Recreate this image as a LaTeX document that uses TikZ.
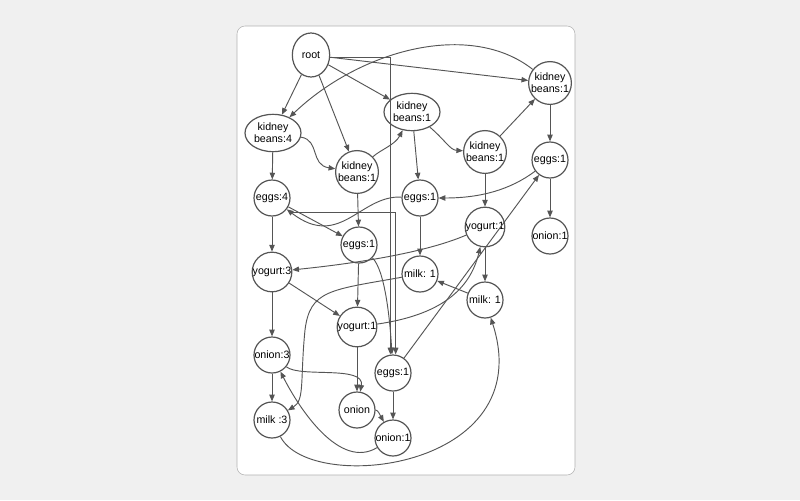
\documentclass[tikz,border=0pt]{standalone}
\usepackage{fontspec}
\setmainfont{Liberation Sans}
\usetikzlibrary{arrows.meta}
\definecolor{edgecolor}{RGB}{85,85,85}
\definecolor{pagecolor}{RGB}{240,240,240}

\tikzset{
  item/.style={draw=edgecolor, line width=0.9pt, circle, minimum size=27pt, inner sep=0pt, font=\fontsize{8}{9}\selectfont, align=center},
  wide/.style={item, ellipse, minimum width=42pt, minimum height=28pt},
  link/.style={draw=edgecolor, line width=0.7pt, -{Triangle[length=5pt,width=4pt]}},
}
\usetikzlibrary{shapes.geometric}

\begin{document}
\begin{tikzpicture}[x=0.75pt, y=-0.75pt]
        \useasboundingbox (0,0) rectangle (800,500);
        \fill[pagecolor] (0,0) rectangle (800,500);
        \filldraw[fill=white, draw=gray!60, rounded corners=6pt] (237,26) rectangle (575,475);

        % nodes, top to bottom
        \node[wide, minimum width=28pt, minimum height=33pt] (root) at (311,55) {root};
        \node[wide] (kbfour) at (273,133) {kidney\\beans:4};
        \node[item] (kbone) at (357,172) {kidney\\beans:1};
        \node[wide] (kbtwo) at (412,112) {kidney\\beans:1};
        \node[item] (kbthree) at (485,152) {kidney\\beans:1};
        \node[item] (kbfive) at (550,83) {kidney\\beans:1};
        \node[item] (eggsfour) at (272,198) {eggs:4};
        \node[item] (eggsone) at (359,245) {eggs:1};
        \node[item] (eggstwo) at (420,198) {eggs:1};
        \node[item] (eggsthree) at (550,160) {eggs:1};
        \node[item] (yogurtone) at (485,227) {yogurt:1};
        \node[item] (oniontop) at (550,236) {onion:1};
        \node[item] (yogurtthree) at (272,272) {yogurt:3};
        \node[item] (milkone) at (420,274) {milk: 1};
        \node[item] (milktwo) at (485,300) {milk: 1};
        \node[item] (yogurttwo) at (357,327) {yogurt:1};
        \node[item] (onionthree) at (272,355) {onion:3};
        \node[item] (eggsfive) at (393,373) {eggs:1};
        \node[item] (onion) at (357,410) {onion};
        \node[item] (milkthree) at (272,420) {milk :3};
        \node[item] (onionone) at (393,438) {onion:1};

        % connectors
        \draw[link] (root) -- (kbfour);
        \draw[link] (root) -- (kbone);
        \draw[link] (root) -- (kbtwo);
        \draw[link] (root) -- (kbfive);
        \draw[link] (root.east |- 0,57) -| ([xshift=-2pt]eggsfive.north);
        \draw[link] (eggsfour.east |- 0,212) -| ([xshift=2pt]eggsfive.north);
        \draw[link] (kbfive) .. controls (470,20) and (360,50) .. (kbfour);
        \draw[link] (kbfour) .. controls (320,140) and (310,165) .. (kbone);
        \draw[link] (kbone) .. controls (380,150) and (395,145) .. (kbtwo);
        \draw[link] (kbtwo) .. controls (445,140) and (450,150) .. (kbthree);
        \draw[link] (kbthree) -- (kbfive);
        \draw[link] (kbtwo) -- (eggstwo);
        \draw[link] (kbfive) -- (eggsthree);
        \draw[link] (eggsthree) -- (oniontop);
        \draw[link] (kbthree) -- (yogurtone);
        \draw[link] (kbfour) -- (eggsfour);
        \draw[link] (kbone) -- (eggsone);
        \draw[link] (eggsthree) .. controls (510,190) and (480,198) .. (eggstwo);
        \draw[link] (eggstwo) .. controls (360,195) and (340,250) .. (eggsfour);
        \draw[link] (eggsfour) -- (eggsone);
        \draw[link] (eggsfour) -- (yogurtthree);
        \draw[link] (eggstwo) -- (milkone);
        \draw[link] (yogurtone) .. controls (420,255) and (340,265) .. (yogurtthree);
        \draw[link] (yogurtone) -- (milktwo);
        \draw[link] (milktwo) -- (milkone);
        \draw[link] (eggsone) -- (yogurttwo);
        \draw[link] (eggsone) .. controls (385,270) and (390,320) .. (eggsfive);
        \draw[link] (yogurtthree) -- (yogurttwo);
        \draw[link] (yogurtthree) -- (onionthree);
        \draw[link] (yogurttwo) .. controls (440,315) and (470,290) .. (yogurtone);
        \draw[link] (milkone) .. controls (330,290) and (310,290) .. (305,330) .. controls (300,380) and (305,400) .. (milkthree);
        \draw[link] (eggsfive) -- (eggsthree);
        \draw[link] (yogurttwo) -- (onion);
        \draw[link] (onionthree) .. controls (300,378) and (365,365) .. (onion);
        \draw[link] (onionthree) -- (milkthree);
        \draw[link] (onion) .. controls (378,410) and (380,415) .. (onionone);
        \draw[link] (eggsfive) -- (onionone);
        \draw[link] (onionone) .. controls (340,470) and (300,410) .. (onionthree);
        \draw[link] (milkthree) .. controls (310,495) and (540,470) .. (milktwo);
\end{tikzpicture}
\end{document}
